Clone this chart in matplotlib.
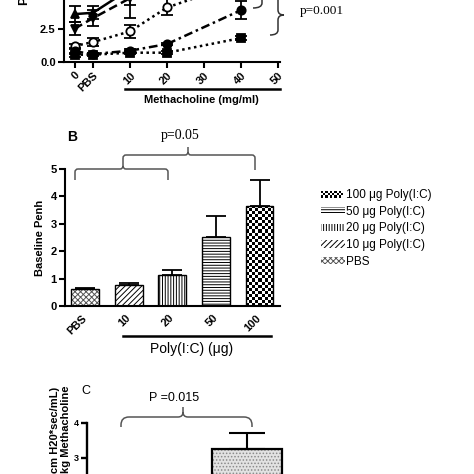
import numpy as np
import matplotlib
matplotlib.use('Agg')
import matplotlib.pyplot as plt
from matplotlib.path import Path
from matplotlib.patches import PathPatch, Rectangle, Patch
from matplotlib.lines import Line2D
from matplotlib.legend_handler import HandlerBase
from matplotlib.ticker import FormatStrFormatter

plt.rcParams['font.family'] = ['Liberation Sans', 'DejaVu Sans']
plt.rcParams['hatch.linewidth'] = 0.7

W = H = 474

# --- Panel A: Penh vs methacholine dose (x=-5 is "0", x=0 is "PBS") ---
dose_x = [-5, 0, 10, 20, 40]
dose_ticks = [-5, 0, 10, 20, 30, 40, 50]
dose_labels = ['0', 'PBS', '10', '20', '30', '40', '50']
penh_tri = [3.6, 3.7, 5.5, 6.5, 7.5]
penh_tri_err = [0.6, 0.5, 1.2, 1.0, 1.0]
penh_vtri = [2.5, 3.3, 4.8, 5.8, 6.8]
penh_vtri_err = [0.5, 0.6, 1.5, 1.0, 1.0]
penh_ocirc = [1.2, 1.5, 2.3, 4.1, 6.0]
penh_ocirc_err = [0.15, 0.3, 0.5, 0.6, 1.0]
penh_fcirc = [0.8, 0.6, 0.85, 1.35, 3.9]
penh_fcirc_err = [0.2, 0.1, 0.1, 0.1, 0.7]
penh_sq = [0.55, 0.55, 0.7, 0.7, 1.8]
penh_sq_err = [0.15, 0.1, 0.1, 0.1, 0.15]

# --- Panel B: baseline Penh by Poly(I:C) dose ---
polyic_labels = ['PBS', '10', '20', '50', '100']
baseline_penh = [0.63, 0.75, 1.12, 2.52, 3.65]
baseline_err = [0.04, 0.08, 0.21, 0.76, 0.95]
legend_labels = ['PBS', '10 μg Poly(I:C)', '20 μg Poly(I:C)',
                 '50 μg Poly(I:C)', '100 μg Poly(I:C)']

# --- Panel C: resistance ---
resist_groups = ['PBS', 'Poly(I:C)']
resistance = [1.5, 3.25]
resistance_err = [0.3, 0.45]


def fx(x):
    return x / W


def fy(y):
    return 1 - y / H


def rect(l, b, r, t):
    return [l / W, 1 - b / H, (r - l) / W, (b - t) / H]


M, L, C3 = Path.MOVETO, Path.LINETO, Path.CURVE3


def add_path(verts, codes, color='black', lw=1.2):
    verts = [(fx(x), fy(y)) for x, y in verts]
    fig.add_artist(PathPatch(Path(verts, codes), facecolor='none', edgecolor=color,
                             lw=lw, transform=fig.transFigure))


def vbrace(x0, x1, x2, ytop, ymid, ybot, q=4, **kw):
    verts = [(x0, ytop), (x1, ytop), (x1, ytop + q), (x1, ymid - q), (x1, ymid), (x2, ymid),
             (x2, ymid), (x1, ymid), (x1, ymid + q), (x1, ybot - q), (x1, ybot), (x0, ybot)]
    codes = [M, C3, C3, L, C3, C3, M, C3, C3, L, C3, C3]
    add_path(verts, codes, **kw)


def hbrace(xl, xr, xm, yh, yl, yr, ytip, re=3, rm=3, **kw):
    verts = [(xl, yl), (xl, yh + re), (xl, yh), (xl + re, yh), (xm - rm, yh), (xm, yh),
             (xm, yh - rm), (xm, ytip), (xm, yh - rm), (xm, yh), (xm + rm, yh),
             (xr - re, yh), (xr, yh), (xr, yh + re), (xr, yr)]
    codes = [M, L, C3, C3, L, C3, C3, L, M, C3, C3, L, C3, C3, L]
    add_path(verts, codes, **kw)


def style_axes(ax, lw=1.5, size=8):
    for s in ['top', 'right']:
        ax.spines[s].set_visible(False)
    for s in ['left', 'bottom']:
        ax.spines[s].set_linewidth(lw)
    ax.patch.set_visible(False)
    ax.tick_params(direction='out', length=4, width=lw, labelsize=size, pad=2)
    for t in ax.get_xticklabels() + ax.get_yticklabels():
        t.set_fontweight('bold')


class CheckerHandler(HandlerBase):
    def create_artists(self, legend, orig_handle, xdescent, ydescent, width, height,
                       fontsize, trans):
        arts = [Rectangle((-xdescent, -ydescent), width, height, facecolor='white',
                          edgecolor='none', transform=trans)]
        s = 1.6
        nx, ny = int(width // s), int(height // s)
        for i in range(nx):
            for j in range(ny):
                if (i + j) % 2 == 0:
                    arts.append(Rectangle((-xdescent + i * s, -ydescent + j * s), s, s,
                                          facecolor='black', edgecolor='none', transform=trans))
        return arts


fig = plt.figure(figsize=(4.74, 4.74), dpi=100)

# ---------------- Panel A ----------------
axA = fig.add_axes(rect(64, 62, 280, -71))
dot = (0, (1, 1.4))
series = [
    (penh_tri, penh_tri_err, '^', 'black', '-'),
    (penh_vtri, penh_vtri_err, 'v', 'black', (0, (3.5, 1.8))),
    (penh_ocirc, penh_ocirc_err, 'o', 'white', dot),
    (penh_fcirc, penh_fcirc_err, 'o', 'black', (0, (3.5, 1.5, 1, 1.5))),
    (penh_sq, penh_sq_err, 's', 'black', dot),
]
for vals, errs, mk, mfc, ls in series:
    axA.errorbar(dose_x, vals, yerr=errs, marker=mk, mfc=mfc, mec='black', mew=1.3,
                 color='black', ls=ls, lw=1.8, ms=6, capsize=4, elinewidth=1.3, capthick=1.3)
axA.set_xlim(-7.84, 50.5)
axA.set_ylim(0, 10)
axA.set_xticks(dose_ticks)
axA.set_xticklabels(dose_labels, rotation=45, ha='right', rotation_mode='anchor')
axA.set_yticks([0, 2.5, 5, 7.5, 10])
axA.yaxis.set_major_formatter(FormatStrFormatter('%.1f'))
style_axes(axA)
axA.set_ylabel('Penh', fontweight='bold', fontsize=9)
axA.yaxis.set_label_coords(-0.155, 0.54)

fig.add_artist(Line2D([fx(125), fx(280)], [fy(89), fy(89)], lw=1.8, color='black'))
fig.text(fx(201), fy(100), 'Methacholine (mg/ml)', fontsize=8, fontweight='bold',
         ha='center', va='center')
vbrace(253, 262, 268, -50, -21, 8, q=5, color='#333', lw=1.1)
vbrace(270, 278, 284, -5, 15, 35, q=5, color='#333', lw=1.1)
fig.text(fx(300), fy(11), 'p=0.001', family=['Liberation Serif', 'DejaVu Serif'],
         fontsize=9.5, ha='left', va='center')

# ---------------- Panel B ----------------
axB = fig.add_axes(rect(65, 306, 280, 169))
pos = np.arange(len(baseline_penh))
hatches = ['xxxxxx', '//////', '||||||', '------', '']
hatch_cols = ['#555555', 'black', 'black', 'black', 'black']
fill = axB.bar(pos, baseline_penh, width=0.64, color='white', lw=0, zorder=1)
for b, h, c in zip(fill, hatches, hatch_cols):
    b.set_hatch(h)
    b.set_edgecolor(c)
axB.bar(pos, baseline_penh, width=0.64, fill=False, edgecolor='black', lw=1.0, zorder=2,
        yerr=[np.zeros(len(baseline_err)), baseline_err], capsize=7,
        error_kw=dict(elinewidth=1.3, capthick=1.3, ecolor='black'))
axB.set_xlim(-0.46, 4.47)
axB.set_ylim(0, 5)

# checkerboard fill for the 100 ug bar
bar100 = fill[4]
x0, y0 = bar100.get_x(), bar100.get_y()
bw, bh = bar100.get_width(), bar100.get_height()
(px0, py0), (px1, py1) = axB.transData.transform([(x0, y0), (x0 + bw, y0 + bh)])
nx = int(round((px1 - px0) / 3))
ny = int(round((py1 - py0) / 3))
checker = np.add.outer(np.arange(ny), np.arange(nx)) % 2
im = axB.imshow(checker, cmap='gray', extent=(x0, x0 + bw, y0, y0 + bh), aspect='auto',
                interpolation='nearest', origin='lower', zorder=1.5)
im.set_clip_path(bar100)
axB.set_xlim(-0.46, 4.47)
axB.set_ylim(0, 5)

axB.set_xticks(pos)
axB.set_xticklabels(polyic_labels, rotation=45, ha='right', va='center',
                    rotation_mode='anchor')
axB.set_yticks(range(6))
style_axes(axB)
axB.tick_params(axis='x', length=0, labelsize=8, pad=7.5)
axB.set_ylabel('Baseline Penh', fontweight='bold', fontsize=8, labelpad=4)

fig.add_artist(Line2D([fx(123), fx(271)], [fy(336), fy(336)], lw=1.8, color='black'))
fig.text(fx(192), fy(349), 'Poly(I:C) (μg)', fontsize=10, ha='center', va='center')
fig.text(fx(72), fy(137), 'B', fontsize=10, fontweight='bold', ha='center', va='center')
fig.text(fx(180), fy(135), 'p=0.05', family=['Liberation Serif', 'DejaVu Serif'],
         fontsize=10, ha='center', va='center')
hbrace(75, 168, 123, 169, 180, 180, 158, color='#555', lw=1.1)
hbrace(123, 255, 188, 155, 158, 170, 147, color='#555', lw=1.1)

checker_handle = Patch(facecolor='white')
leg_handles = [checker_handle]
for h, c in list(zip(hatches, hatch_cols))[3::-1]:
    leg_handles.append(Patch(facecolor='white', edgecolor=c, hatch=h, lw=0))
fig.legend(leg_handles, legend_labels[::-1], loc='upper left',
           bbox_to_anchor=(fx(321), fy(189)), frameon=False, fontsize=8.5,
           handlelength=2.0, handleheight=0.6, handletextpad=0.15, labelspacing=0.4,
           borderpad=0, borderaxespad=0,
           handler_map={checker_handle: CheckerHandler()})

# ---------------- Panel C ----------------
axC = fig.add_axes(rect(87, 561.8, 323, 423))
cpos = np.arange(len(resistance))
axC.bar(cpos, resistance, width=0.555, color='#e2e2e2', edgecolor='#8a8a8a', hatch='.....',
        lw=0, zorder=1)
axC.bar(cpos, resistance, width=0.555, fill=False, edgecolor='black', lw=1.6, zorder=2,
        yerr=[np.zeros(len(resistance_err)), resistance_err], capsize=13,
        error_kw=dict(elinewidth=1.5, capthick=1.5, ecolor='black'))
axC.set_xlim(-0.27, 1.6)
axC.set_ylim(0, 4)
axC.set_xticks(cpos)
axC.set_xticklabels(resist_groups)
axC.set_yticks(range(5))
style_axes(axC, lw=1.7, size=6.5)

fig.text(fx(55), fy(473), 'cm H20*sec/mL)', fontsize=8, fontweight='bold', rotation=90,
         ha='center', va='bottom')
fig.text(fx(66), fy(473), 'kg Methacholine', fontsize=8, fontweight='bold', rotation=90,
         ha='center', va='bottom')
fig.text(fx(86), fy(391), 'C', fontsize=9, ha='center', va='center')
fig.text(fx(174), fy(398), 'P =0.015', fontsize=9, ha='center', va='center')
hbrace(121, 252, 183, 417, 427, 427, 407, re=8, rm=5, color='#555', lw=1.1)

fig.savefig('out.png', dpi=100)
